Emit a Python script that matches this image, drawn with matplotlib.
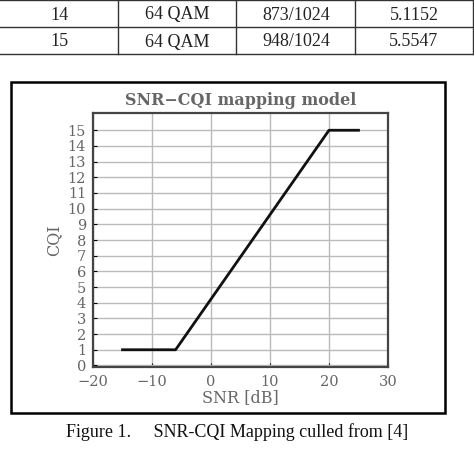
import matplotlib
matplotlib.use("Agg")
import matplotlib.pyplot as plt
from matplotlib.patches import Rectangle

# table rows shown above the figure
table_rows = [["14", "64 QAM", "873/1024", "5.1152"],
              ["15", "64 QAM", "948/1024", "5.5547"]]

# SNR-CQI mapping curve
snr = [-15, -6, 20, 25]
cqi = [1, 1, 15, 15]
x_ticks = [-20, -10, 0, 10, 20, 30]
y_ticks = list(range(0, 16))

W, H = 474, 466
fig = plt.figure(figsize=(W / 100, H / 100), dpi=100)
fig.patch.set_facecolor("white")

def fx(px):
    return px / W

def fy(py):
    return 1 - py / H

serif = "Liberation Serif"
# table
for y in [0, 27, 54]:
    fig.add_artist(plt.Line2D([0, 1], [fy(y), fy(y)], color="#333", lw=1.0))
for x in [118, 236, 355, 473]:
    fig.add_artist(plt.Line2D([fx(x), fx(x)], [fy(0), fy(54)], color="#333", lw=1.0))
centers = [59, 177, 296, 414]
for r, row in enumerate(table_rows):
    for c, txt in enumerate(row):
        fig.text(fx(centers[c]), fy(15 + 27 * r), txt, ha="center", va="center",
                 fontsize=13, family=serif, color="#222")

# frame around figure
fig.add_artist(Rectangle((fx(11), fy(413)), fx(445) - fx(11), fy(82) - fy(413),
                         fill=False, edgecolor="black", lw=1.8, transform=fig.transFigure))

grey = "#666666"
ax = fig.add_axes([fx(93), fy(367), fx(388) - fx(93), fy(113) - fy(367)])
ax.plot(snr, cqi, color="#111", lw=2.0)
ax.set_xlim(-20, 30)
ax.set_ylim(-0.1, 16.1)
ax.set_xticks(x_ticks)
ax.set_yticks(y_ticks)
ax.set_xticklabels([str(t).replace("-", "\u2212") for t in x_ticks], family=["DejaVu Serif"], fontsize=10.5, color=grey)
ax.set_yticklabels([str(t) for t in y_ticks], family=["DejaVu Serif"], fontsize=10.5, color=grey)
ax.tick_params(axis="x", length=3, direction="in", pad=6)
ax.tick_params(axis="y", length=3, direction="in", pad=5)
ax.grid(True, color="#bbbbbb", lw=1.0)
for s in ax.spines.values():
    s.set_linewidth(1.6)
    s.set_color("#444")
ax.set_title("SNR\u2212CQI mapping model", family=["DejaVu Serif"], fontsize=11.5,
             color=grey, fontweight="bold", pad=6)
ax.set_xlabel("SNR [dB]", family=["DejaVu Serif"], fontsize=11.5, color=grey, labelpad=0)
ax.set_ylabel("CQI", family=["DejaVu Serif"], fontsize=11.5, color=grey, labelpad=4)

fig.text(fx(237), fy(432), "Figure 1.     SNR-CQI Mapping culled from [4]", ha="center",
         va="center", fontsize=13, family=serif, color="#111")

fig.savefig("out.png", dpi=100)
